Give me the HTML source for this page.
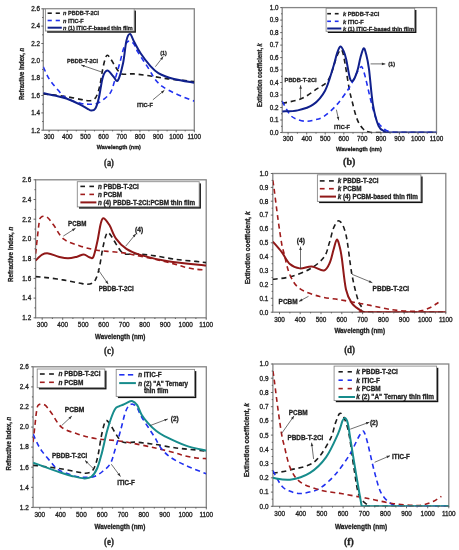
<!DOCTYPE html>
<html><head><meta charset="utf-8"><style>
html,body{margin:0;padding:0;background:#fff;}
body{width:459px;height:550px;overflow:hidden;}
svg{display:block;filter:blur(0.35px);}
</style></head><body>
<svg width="459" height="550" viewBox="0 0 459 550" font-family="Liberation Sans, sans-serif">
<rect width="459" height="550" fill="#fff"/>
<clipPath id="ca"><rect x="43.3" y="7.8" width="151.0" height="122.4"/></clipPath>
<rect x="43.3" y="8.8" width="151.0" height="121.4" fill="none" stroke="#858585" stroke-width="1.3"/>
<line x1="49.1" y1="130.2" x2="49.1" y2="132.2" stroke="#444" stroke-width="0.8"/>
<text x="49.1" y="138.5" font-size="6.30" text-anchor="middle" fill="#222" stroke="#222" stroke-width="0.30" >300</text>
<line x1="58.2" y1="130.2" x2="58.2" y2="131.4" stroke="#444" stroke-width="0.8"/>
<line x1="67.3" y1="130.2" x2="67.3" y2="132.2" stroke="#444" stroke-width="0.8"/>
<text x="67.3" y="138.5" font-size="6.30" text-anchor="middle" fill="#222" stroke="#222" stroke-width="0.30" >400</text>
<line x1="76.3" y1="130.2" x2="76.3" y2="131.4" stroke="#444" stroke-width="0.8"/>
<line x1="85.4" y1="130.2" x2="85.4" y2="132.2" stroke="#444" stroke-width="0.8"/>
<text x="85.4" y="138.5" font-size="6.30" text-anchor="middle" fill="#222" stroke="#222" stroke-width="0.30" >500</text>
<line x1="94.5" y1="130.2" x2="94.5" y2="131.4" stroke="#444" stroke-width="0.8"/>
<line x1="103.6" y1="130.2" x2="103.6" y2="132.2" stroke="#444" stroke-width="0.8"/>
<text x="103.6" y="138.5" font-size="6.30" text-anchor="middle" fill="#222" stroke="#222" stroke-width="0.30" >600</text>
<line x1="112.6" y1="130.2" x2="112.6" y2="131.4" stroke="#444" stroke-width="0.8"/>
<line x1="121.7" y1="130.2" x2="121.7" y2="132.2" stroke="#444" stroke-width="0.8"/>
<text x="121.7" y="138.5" font-size="6.30" text-anchor="middle" fill="#222" stroke="#222" stroke-width="0.30" >700</text>
<line x1="130.8" y1="130.2" x2="130.8" y2="131.4" stroke="#444" stroke-width="0.8"/>
<line x1="139.9" y1="130.2" x2="139.9" y2="132.2" stroke="#444" stroke-width="0.8"/>
<text x="139.9" y="138.5" font-size="6.30" text-anchor="middle" fill="#222" stroke="#222" stroke-width="0.30" >800</text>
<line x1="148.9" y1="130.2" x2="148.9" y2="131.4" stroke="#444" stroke-width="0.8"/>
<line x1="158.0" y1="130.2" x2="158.0" y2="132.2" stroke="#444" stroke-width="0.8"/>
<text x="158.0" y="138.5" font-size="6.30" text-anchor="middle" fill="#222" stroke="#222" stroke-width="0.30" >900</text>
<line x1="167.1" y1="130.2" x2="167.1" y2="131.4" stroke="#444" stroke-width="0.8"/>
<line x1="176.2" y1="130.2" x2="176.2" y2="132.2" stroke="#444" stroke-width="0.8"/>
<text x="176.2" y="138.5" font-size="6.30" text-anchor="middle" fill="#222" stroke="#222" stroke-width="0.30" >1000</text>
<line x1="185.2" y1="130.2" x2="185.2" y2="131.4" stroke="#444" stroke-width="0.8"/>
<line x1="194.3" y1="130.2" x2="194.3" y2="132.2" stroke="#444" stroke-width="0.8"/>
<text x="194.3" y="138.5" font-size="6.30" text-anchor="middle" fill="#222" stroke="#222" stroke-width="0.30" >1100</text>
<line x1="41.3" y1="130.2" x2="43.3" y2="130.2" stroke="#444" stroke-width="0.8"/>
<text x="39.9" y="132.5" font-size="6.30" text-anchor="end" fill="#222" stroke="#222" stroke-width="0.30" >1.2</text>
<line x1="42.1" y1="121.5" x2="43.3" y2="121.5" stroke="#444" stroke-width="0.8"/>
<line x1="41.3" y1="112.9" x2="43.3" y2="112.9" stroke="#444" stroke-width="0.8"/>
<text x="39.9" y="115.1" font-size="6.30" text-anchor="end" fill="#222" stroke="#222" stroke-width="0.30" >1.4</text>
<line x1="42.1" y1="104.2" x2="43.3" y2="104.2" stroke="#444" stroke-width="0.8"/>
<line x1="41.3" y1="95.5" x2="43.3" y2="95.5" stroke="#444" stroke-width="0.8"/>
<text x="39.9" y="97.8" font-size="6.30" text-anchor="end" fill="#222" stroke="#222" stroke-width="0.30" >1.6</text>
<line x1="42.1" y1="86.8" x2="43.3" y2="86.8" stroke="#444" stroke-width="0.8"/>
<line x1="41.3" y1="78.2" x2="43.3" y2="78.2" stroke="#444" stroke-width="0.8"/>
<text x="39.9" y="80.4" font-size="6.30" text-anchor="end" fill="#222" stroke="#222" stroke-width="0.30" >1.8</text>
<line x1="42.1" y1="69.5" x2="43.3" y2="69.5" stroke="#444" stroke-width="0.8"/>
<line x1="41.3" y1="60.8" x2="43.3" y2="60.8" stroke="#444" stroke-width="0.8"/>
<text x="39.9" y="63.1" font-size="6.30" text-anchor="end" fill="#222" stroke="#222" stroke-width="0.30" >2.0</text>
<line x1="42.1" y1="52.2" x2="43.3" y2="52.2" stroke="#444" stroke-width="0.8"/>
<line x1="41.3" y1="43.5" x2="43.3" y2="43.5" stroke="#444" stroke-width="0.8"/>
<text x="39.9" y="45.8" font-size="6.30" text-anchor="end" fill="#222" stroke="#222" stroke-width="0.30" >2.2</text>
<line x1="42.1" y1="34.8" x2="43.3" y2="34.8" stroke="#444" stroke-width="0.8"/>
<line x1="41.3" y1="26.1" x2="43.3" y2="26.1" stroke="#444" stroke-width="0.8"/>
<text x="39.9" y="28.4" font-size="6.30" text-anchor="end" fill="#222" stroke="#222" stroke-width="0.30" >2.4</text>
<line x1="42.1" y1="17.5" x2="43.3" y2="17.5" stroke="#444" stroke-width="0.8"/>
<line x1="41.3" y1="8.8" x2="43.3" y2="8.8" stroke="#444" stroke-width="0.8"/>
<text x="39.9" y="11.1" font-size="6.30" text-anchor="end" fill="#222" stroke="#222" stroke-width="0.30" >2.6</text>
<text x="0" y="0" font-size="6.40" text-anchor="middle" textLength="52.0" lengthAdjust="spacingAndGlyphs" fill="#222" stroke="#222" stroke-width="0.30" font-family="Liberation Sans, sans-serif" font-weight="bold" transform="translate(23.6,74.0) rotate(-90)">Refractive index, <tspan font-style="italic">n</tspan></text>
<text x="118.8" y="149.1" font-size="5.90" text-anchor="middle" textLength="44.1" lengthAdjust="spacingAndGlyphs" fill="#222" stroke="#222" stroke-width="0.30" font-family="Liberation Sans, sans-serif" font-weight="bold">Wavelength (nm)</text>
<text x="109.0" y="165.9" font-size="10.5" font-weight="bold" font-family="Liberation Serif, serif" text-anchor="middle" textLength="9.8" lengthAdjust="spacingAndGlyphs" fill="#222" stroke="#222" stroke-width="0.35">(a)</text>
<g clip-path="url(#ca)" fill="none" stroke-linejoin="round">
<path d="M43.30,93.95 C44.87,94.10 48.74,94.34 52.74,94.82 C56.73,95.30 62.42,96.02 67.26,96.81 C72.10,97.61 78.15,98.94 81.78,99.59 C85.41,100.24 86.98,100.76 89.04,100.72 C91.09,100.67 92.76,100.34 94.12,99.33 C95.48,98.32 96.23,97.02 97.20,94.65 C98.17,92.28 99.02,89.30 99.92,85.11 C100.83,80.92 101.74,73.98 102.65,69.50 C103.55,65.02 104.55,60.60 105.37,58.23 C106.19,55.86 106.64,55.13 107.55,55.28 C108.46,55.42 109.66,57.45 110.81,59.09 C111.96,60.74 113.17,63.14 114.44,65.16 C115.71,67.19 117.17,69.76 118.44,71.23 C119.71,72.71 120.61,73.52 122.07,74.01 C123.52,74.50 125.24,74.20 127.15,74.18 C129.05,74.17 129.84,73.66 133.50,73.92 C137.16,74.18 143.36,74.92 149.11,75.74 C154.86,76.57 161.96,78.06 167.98,78.87 C174.00,79.67 180.84,80.14 185.23,80.60 C189.61,81.06 192.79,81.47 194.30,81.64" stroke="#1c1c1c" stroke-width="1.6" stroke-dasharray="5 3.7"/>
<path d="M43.30,66.90 C43.97,68.34 45.93,73.01 47.29,75.57 C48.65,78.13 49.65,79.79 51.47,82.25 C53.28,84.70 56.16,87.96 58.18,90.31 C60.21,92.67 61.51,94.72 63.63,96.38 C65.74,98.04 67.98,99.10 70.89,100.28 C73.79,101.47 78.03,102.84 81.05,103.49 C84.07,104.14 86.43,104.19 89.04,104.19 C91.64,104.19 94.24,104.29 96.66,103.49 C99.08,102.70 101.23,101.27 103.55,99.42 C105.88,97.57 108.79,95.50 110.63,92.39 C112.48,89.29 113.08,85.74 114.63,80.77 C116.17,75.80 118.41,67.91 119.89,62.56 C121.37,57.22 122.40,52.01 123.52,48.69 C124.64,45.36 125.48,43.89 126.60,42.62 C127.72,41.35 128.99,40.77 130.23,41.06 C131.47,41.35 132.74,42.47 134.05,44.35 C135.35,46.23 135.56,48.21 138.04,52.33 C140.52,56.45 146.11,64.62 148.93,69.07 C151.74,73.52 152.68,76.15 154.92,79.04 C157.15,81.93 158.82,83.92 162.36,86.41 C165.90,88.90 170.83,91.50 176.15,93.95 C181.47,96.41 191.28,99.95 194.30,101.15" stroke="#2030f0" stroke-width="1.6" stroke-dasharray="5 3.7"/>
<path d="M43.30,93.09 C45.18,93.49 50.71,94.62 54.55,95.51 C58.39,96.41 62.08,96.96 66.35,98.46 C70.61,99.97 76.66,102.86 80.14,104.53 C83.62,106.21 85.35,107.51 87.22,108.52 C89.10,109.53 90.03,110.60 91.39,110.60 C92.76,110.60 94.15,110.62 95.39,108.52 C96.63,106.43 97.60,103.26 98.84,98.03 C100.08,92.80 101.41,81.71 102.83,77.13 C104.25,72.55 105.61,70.66 107.37,70.54 C109.12,70.42 111.60,74.80 113.36,76.44 C115.11,78.07 116.26,82.62 117.89,80.34 C119.53,78.06 121.73,69.36 123.16,62.74 C124.58,56.12 125.27,45.41 126.42,40.62 C127.57,35.84 128.75,33.82 130.05,34.03 C131.35,34.25 132.44,38.67 134.23,41.92 C136.01,45.18 138.16,49.64 140.76,53.54 C143.36,57.45 146.90,62.07 149.83,65.34 C152.77,68.60 154.34,70.86 158.36,73.14 C162.39,75.43 167.98,77.45 173.97,79.04 C179.96,80.63 190.91,82.07 194.30,82.68" stroke="#10208c" stroke-width="2"/>
</g>
<text x="67.1" y="63.1" font-size="6.16" text-anchor="start" textLength="31.0" lengthAdjust="spacingAndGlyphs" fill="#222" stroke="#222" stroke-width="0.30" font-family="Liberation Sans, sans-serif" font-weight="bold">PBDB-T-2Cl</text>
<line x1="102.5" y1="72.3" x2="81.2" y2="65.0" stroke="#333" stroke-width="0.70"/>
<polygon points="81.2,65.0 84.8,64.9 84.0,67.3" fill="#333"/>
<text x="160.3" y="54.5" font-size="6.16" text-anchor="start" textLength="6.6" lengthAdjust="spacingAndGlyphs" fill="#222" stroke="#222" stroke-width="0.30" font-family="Liberation Sans, sans-serif" font-weight="bold">(1)</text>
<line x1="155.4" y1="66.7" x2="163.3" y2="56.5" stroke="#333" stroke-width="0.70"/>
<polygon points="163.3,56.5 162.2,60.0 160.2,58.4" fill="#333"/>
<text x="137.0" y="107.1" font-size="6.16" text-anchor="start" textLength="15.9" lengthAdjust="spacingAndGlyphs" fill="#222" stroke="#222" stroke-width="0.30" font-family="Liberation Sans, sans-serif" font-weight="bold">ITIC-F</text>
<line x1="152.9" y1="99.8" x2="164.4" y2="90.3" stroke="#333" stroke-width="0.70"/>
<polygon points="164.4,90.3 162.6,93.5 161.0,91.5" fill="#333"/>
<rect x="47.10" y="10.60" width="88.80" height="22.10" fill="#111"/>
<rect x="45.40" y="8.90" width="88.80" height="22.10" fill="#fff" stroke="#8a8a8a" stroke-width="0.9"/>
<line x1="47.60" y1="13.20" x2="51.80" y2="13.20" stroke="#1c1c1c" stroke-width="1.6"/>
<line x1="55.70" y1="13.20" x2="59.90" y2="13.20" stroke="#1c1c1c" stroke-width="1.6"/>
<text transform="translate(63.10,15.42) scale(0.8990,1)" font-size="6.16" fill="#222" stroke="#222" stroke-width="0.30" font-family="Liberation Sans, sans-serif" font-weight="bold"><tspan font-style="italic">n</tspan> PBDB-T-2Cl</text>
<line x1="47.60" y1="20.50" x2="51.80" y2="20.50" stroke="#2030f0" stroke-width="1.6"/>
<line x1="55.70" y1="20.50" x2="59.90" y2="20.50" stroke="#2030f0" stroke-width="1.6"/>
<text transform="translate(63.10,22.72) scale(0.8990,1)" font-size="6.16" fill="#222" stroke="#222" stroke-width="0.30" font-family="Liberation Sans, sans-serif" font-weight="bold"><tspan font-style="italic">n</tspan> ITIC-F</text>
<line x1="47.60" y1="27.70" x2="61.80" y2="27.70" stroke="#10208c" stroke-width="2"/>
<text transform="translate(63.10,29.92) scale(0.8990,1)" font-size="6.16" fill="#222" stroke="#222" stroke-width="0.30" font-family="Liberation Sans, sans-serif" font-weight="bold"><tspan font-style="italic">n</tspan> (1) ITIC-F-based thin film</text>
<clipPath id="cb"><rect x="282.2" y="6.6" width="154.3" height="125.9"/></clipPath>
<rect x="282.2" y="7.6" width="154.3" height="124.9" fill="none" stroke="#858585" stroke-width="1.3"/>
<line x1="288.1" y1="132.5" x2="288.1" y2="134.5" stroke="#444" stroke-width="0.8"/>
<text x="288.1" y="140.8" font-size="6.30" text-anchor="middle" fill="#222" stroke="#222" stroke-width="0.30" >300</text>
<line x1="297.4" y1="132.5" x2="297.4" y2="133.7" stroke="#444" stroke-width="0.8"/>
<line x1="306.7" y1="132.5" x2="306.7" y2="134.5" stroke="#444" stroke-width="0.8"/>
<text x="306.7" y="140.8" font-size="6.30" text-anchor="middle" fill="#222" stroke="#222" stroke-width="0.30" >400</text>
<line x1="316.0" y1="132.5" x2="316.0" y2="133.7" stroke="#444" stroke-width="0.8"/>
<line x1="325.2" y1="132.5" x2="325.2" y2="134.5" stroke="#444" stroke-width="0.8"/>
<text x="325.2" y="140.8" font-size="6.30" text-anchor="middle" fill="#222" stroke="#222" stroke-width="0.30" >500</text>
<line x1="334.5" y1="132.5" x2="334.5" y2="133.7" stroke="#444" stroke-width="0.8"/>
<line x1="343.8" y1="132.5" x2="343.8" y2="134.5" stroke="#444" stroke-width="0.8"/>
<text x="343.8" y="140.8" font-size="6.30" text-anchor="middle" fill="#222" stroke="#222" stroke-width="0.30" >600</text>
<line x1="353.0" y1="132.5" x2="353.0" y2="133.7" stroke="#444" stroke-width="0.8"/>
<line x1="362.3" y1="132.5" x2="362.3" y2="134.5" stroke="#444" stroke-width="0.8"/>
<text x="362.3" y="140.8" font-size="6.30" text-anchor="middle" fill="#222" stroke="#222" stroke-width="0.30" >700</text>
<line x1="371.6" y1="132.5" x2="371.6" y2="133.7" stroke="#444" stroke-width="0.8"/>
<line x1="380.9" y1="132.5" x2="380.9" y2="134.5" stroke="#444" stroke-width="0.8"/>
<text x="380.9" y="140.8" font-size="6.30" text-anchor="middle" fill="#222" stroke="#222" stroke-width="0.30" >800</text>
<line x1="390.1" y1="132.5" x2="390.1" y2="133.7" stroke="#444" stroke-width="0.8"/>
<line x1="399.4" y1="132.5" x2="399.4" y2="134.5" stroke="#444" stroke-width="0.8"/>
<text x="399.4" y="140.8" font-size="6.30" text-anchor="middle" fill="#222" stroke="#222" stroke-width="0.30" >900</text>
<line x1="408.7" y1="132.5" x2="408.7" y2="133.7" stroke="#444" stroke-width="0.8"/>
<line x1="418.0" y1="132.5" x2="418.0" y2="134.5" stroke="#444" stroke-width="0.8"/>
<text x="418.0" y="140.8" font-size="6.30" text-anchor="middle" fill="#222" stroke="#222" stroke-width="0.30" >1000</text>
<line x1="427.2" y1="132.5" x2="427.2" y2="133.7" stroke="#444" stroke-width="0.8"/>
<line x1="436.5" y1="132.5" x2="436.5" y2="134.5" stroke="#444" stroke-width="0.8"/>
<text x="436.5" y="140.8" font-size="6.30" text-anchor="middle" fill="#222" stroke="#222" stroke-width="0.30" >1100</text>
<line x1="280.2" y1="132.5" x2="282.2" y2="132.5" stroke="#444" stroke-width="0.8"/>
<text x="278.6" y="134.8" font-size="6.30" text-anchor="end" fill="#222" stroke="#222" stroke-width="0.30" >0.0</text>
<line x1="281.0" y1="126.3" x2="282.2" y2="126.3" stroke="#444" stroke-width="0.8"/>
<line x1="280.2" y1="120.0" x2="282.2" y2="120.0" stroke="#444" stroke-width="0.8"/>
<text x="278.6" y="122.3" font-size="6.30" text-anchor="end" fill="#222" stroke="#222" stroke-width="0.30" >0.1</text>
<line x1="281.0" y1="113.8" x2="282.2" y2="113.8" stroke="#444" stroke-width="0.8"/>
<line x1="280.2" y1="107.5" x2="282.2" y2="107.5" stroke="#444" stroke-width="0.8"/>
<text x="278.6" y="109.8" font-size="6.30" text-anchor="end" fill="#222" stroke="#222" stroke-width="0.30" >0.2</text>
<line x1="281.0" y1="101.3" x2="282.2" y2="101.3" stroke="#444" stroke-width="0.8"/>
<line x1="280.2" y1="95.0" x2="282.2" y2="95.0" stroke="#444" stroke-width="0.8"/>
<text x="278.6" y="97.3" font-size="6.30" text-anchor="end" fill="#222" stroke="#222" stroke-width="0.30" >0.3</text>
<line x1="281.0" y1="88.8" x2="282.2" y2="88.8" stroke="#444" stroke-width="0.8"/>
<line x1="280.2" y1="82.5" x2="282.2" y2="82.5" stroke="#444" stroke-width="0.8"/>
<text x="278.6" y="84.8" font-size="6.30" text-anchor="end" fill="#222" stroke="#222" stroke-width="0.30" >0.4</text>
<line x1="281.0" y1="76.3" x2="282.2" y2="76.3" stroke="#444" stroke-width="0.8"/>
<line x1="280.2" y1="70.0" x2="282.2" y2="70.0" stroke="#444" stroke-width="0.8"/>
<text x="278.6" y="72.3" font-size="6.30" text-anchor="end" fill="#222" stroke="#222" stroke-width="0.30" >0.5</text>
<line x1="281.0" y1="63.8" x2="282.2" y2="63.8" stroke="#444" stroke-width="0.8"/>
<line x1="280.2" y1="57.6" x2="282.2" y2="57.6" stroke="#444" stroke-width="0.8"/>
<text x="278.6" y="59.8" font-size="6.30" text-anchor="end" fill="#222" stroke="#222" stroke-width="0.30" >0.6</text>
<line x1="281.0" y1="51.3" x2="282.2" y2="51.3" stroke="#444" stroke-width="0.8"/>
<line x1="280.2" y1="45.1" x2="282.2" y2="45.1" stroke="#444" stroke-width="0.8"/>
<text x="278.6" y="47.3" font-size="6.30" text-anchor="end" fill="#222" stroke="#222" stroke-width="0.30" >0.7</text>
<line x1="281.0" y1="38.8" x2="282.2" y2="38.8" stroke="#444" stroke-width="0.8"/>
<line x1="280.2" y1="32.6" x2="282.2" y2="32.6" stroke="#444" stroke-width="0.8"/>
<text x="278.6" y="34.8" font-size="6.30" text-anchor="end" fill="#222" stroke="#222" stroke-width="0.30" >0.8</text>
<line x1="281.0" y1="26.3" x2="282.2" y2="26.3" stroke="#444" stroke-width="0.8"/>
<line x1="280.2" y1="20.1" x2="282.2" y2="20.1" stroke="#444" stroke-width="0.8"/>
<text x="278.6" y="22.4" font-size="6.30" text-anchor="end" fill="#222" stroke="#222" stroke-width="0.30" >0.9</text>
<line x1="281.0" y1="13.8" x2="282.2" y2="13.8" stroke="#444" stroke-width="0.8"/>
<line x1="280.2" y1="7.6" x2="282.2" y2="7.6" stroke="#444" stroke-width="0.8"/>
<text x="278.6" y="9.9" font-size="6.30" text-anchor="end" fill="#222" stroke="#222" stroke-width="0.30" >1.0</text>
<text x="0" y="0" font-size="6.40" text-anchor="middle" textLength="63.6" lengthAdjust="spacingAndGlyphs" fill="#222" stroke="#222" stroke-width="0.30" font-family="Liberation Sans, sans-serif" font-weight="bold" transform="translate(262.1,75.1) rotate(-90)">Extinction coefficient, <tspan font-style="italic">k</tspan></text>
<text x="358.9" y="150.8" font-size="5.90" text-anchor="middle" textLength="45.8" lengthAdjust="spacingAndGlyphs" fill="#222" stroke="#222" stroke-width="0.30" font-family="Liberation Sans, sans-serif" font-weight="bold">Wavelength (nm)</text>
<text x="349.2" y="164.9" font-size="10.5" font-weight="bold" font-family="Liberation Serif, serif" text-anchor="middle" textLength="12.2" lengthAdjust="spacingAndGlyphs" fill="#222" stroke="#222" stroke-width="0.35">(b)</text>
<g clip-path="url(#cb)" fill="none" stroke-linejoin="round">
<path d="M282.20,103.40 C285.45,102.59 295.83,100.98 301.67,98.53 C307.51,96.07 313.08,91.37 317.25,88.66 C321.42,85.95 324.30,85.02 326.71,82.29 C329.12,79.56 330.11,76.42 331.72,72.30 C333.32,68.18 334.96,61.20 336.35,57.56 C337.74,53.92 339.04,51.46 340.06,50.44 C341.08,49.42 341.67,49.42 342.47,51.44 C343.28,53.46 344.11,58.41 344.88,62.56 C345.66,66.70 346.31,71.51 347.11,76.29 C347.91,81.08 348.87,87.12 349.71,91.28 C350.54,95.45 351.16,97.44 352.12,101.28 C353.08,105.11 354.37,110.73 355.46,114.26 C356.54,117.80 357.31,120.05 358.61,122.51 C359.91,124.96 361.51,127.42 363.24,129.00 C364.98,130.58 366.06,131.42 368.99,132.00 C371.93,132.58 369.61,132.42 380.86,132.50 C392.11,132.58 427.23,132.50 436.50,132.50" stroke="#1c1c1c" stroke-width="1.6" stroke-dasharray="5 3.7"/>
<path d="M282.20,101.28 C283.50,103.52 287.45,111.75 289.99,114.76 C292.52,117.78 294.81,118.30 297.41,119.39 C300.00,120.47 302.79,121.15 305.57,121.26 C308.35,121.36 311.10,120.78 314.10,120.01 C317.10,119.24 319.82,119.14 323.56,116.64 C327.30,114.14 332.24,109.87 336.54,105.02 C340.84,100.17 345.94,92.95 349.34,87.54 C352.74,82.12 355.08,75.92 356.94,72.55 C358.79,69.18 359.57,68.13 360.46,67.30 C361.36,66.47 361.51,65.95 362.32,67.55 C363.12,69.15 363.83,71.30 365.28,76.92 C366.74,82.54 369.12,94.09 371.03,101.28 C372.95,108.46 374.56,115.35 376.78,120.01 C379.01,124.67 381.85,127.23 384.39,129.25 C386.92,131.27 389.49,131.58 391.99,132.13 C394.49,132.67 391.99,132.44 399.41,132.50 C406.83,132.56 430.32,132.50 436.50,132.50" stroke="#2030f0" stroke-width="1.6" stroke-dasharray="5 3.7"/>
<path d="M282.20,111.39 C284.80,111.23 292.59,111.56 297.78,110.39 C302.97,109.23 308.81,107.69 313.36,104.40 C317.90,101.11 321.83,96.55 325.04,90.66 C328.26,84.77 330.60,75.40 332.64,69.05 C334.68,62.70 335.98,56.33 337.28,52.56 C338.58,48.80 339.35,46.65 340.43,46.44 C341.52,46.24 342.81,49.19 343.77,51.31 C344.73,53.44 345.19,54.81 346.18,59.18 C347.17,63.56 348.72,73.86 349.71,77.54 C350.70,81.23 351.25,81.29 352.12,81.29 C352.98,81.29 353.94,79.58 354.90,77.54 C355.86,75.50 356.94,72.38 357.87,69.05 C358.79,65.72 359.50,60.99 360.46,57.56 C361.42,54.13 362.69,49.07 363.62,48.44 C364.54,47.82 365.13,50.38 366.03,53.81 C366.92,57.25 367.85,60.62 368.99,69.05 C370.14,77.48 371.28,94.88 372.89,104.40 C374.50,113.91 376.69,121.65 378.64,126.13 C380.58,130.61 382.93,130.19 384.57,131.25 C386.21,132.31 379.81,132.29 388.47,132.50 C397.12,132.71 428.49,132.50 436.50,132.50" stroke="#10208c" stroke-width="2"/>
</g>
<text x="284.6" y="82.1" font-size="6.16" text-anchor="start" textLength="32.0" lengthAdjust="spacingAndGlyphs" fill="#222" stroke="#222" stroke-width="0.30" font-family="Liberation Sans, sans-serif" font-weight="bold">PBDB-T-2Cl</text>
<line x1="300.6" y1="99.0" x2="300.6" y2="85.3" stroke="#333" stroke-width="0.70"/>
<polygon points="300.6,85.3 301.9,88.7 299.3,88.7" fill="#333"/>
<text x="334.1" y="128.6" font-size="6.16" text-anchor="start" textLength="15.9" lengthAdjust="spacingAndGlyphs" fill="#222" stroke="#222" stroke-width="0.30" font-family="Liberation Sans, sans-serif" font-weight="bold">ITIC-F</text>
<line x1="336.4" y1="109.7" x2="338.7" y2="120.3" stroke="#333" stroke-width="0.70"/>
<polygon points="338.7,120.3 336.7,117.3 339.2,116.7" fill="#333"/>
<text x="388.2" y="66.1" font-size="6.16" text-anchor="start" textLength="6.9" lengthAdjust="spacingAndGlyphs" fill="#222" stroke="#222" stroke-width="0.30" font-family="Liberation Sans, sans-serif" font-weight="bold">(1)</text>
<line x1="370.6" y1="63.9" x2="385.3" y2="63.9" stroke="#333" stroke-width="0.70"/>
<polygon points="385.3,63.9 381.9,65.2 381.9,62.6" fill="#333"/>
<rect x="327.80" y="10.00" width="88.60" height="23.00" fill="#111"/>
<rect x="326.10" y="8.30" width="88.60" height="23.00" fill="#fff" stroke="#8a8a8a" stroke-width="0.9"/>
<line x1="327.20" y1="13.70" x2="331.00" y2="13.70" stroke="#1c1c1c" stroke-width="1.6"/>
<line x1="334.80" y1="13.70" x2="338.60" y2="13.70" stroke="#1c1c1c" stroke-width="1.6"/>
<text transform="translate(343.00,15.92) scale(0.9171,1)" font-size="6.16" fill="#222" stroke="#222" stroke-width="0.30" font-family="Liberation Sans, sans-serif" font-weight="bold"><tspan font-style="italic">k</tspan> PBDB-T-2Cl</text>
<line x1="327.20" y1="21.30" x2="331.00" y2="21.30" stroke="#2030f0" stroke-width="1.6"/>
<line x1="334.80" y1="21.30" x2="338.60" y2="21.30" stroke="#2030f0" stroke-width="1.6"/>
<text transform="translate(343.00,23.52) scale(0.9171,1)" font-size="6.16" fill="#222" stroke="#222" stroke-width="0.30" font-family="Liberation Sans, sans-serif" font-weight="bold"><tspan font-style="italic">k</tspan> ITIC-F</text>
<line x1="327.20" y1="28.50" x2="341.30" y2="28.50" stroke="#10208c" stroke-width="2"/>
<text transform="translate(343.00,30.72) scale(0.9171,1)" font-size="6.16" fill="#222" stroke="#222" stroke-width="0.30" font-family="Liberation Sans, sans-serif" font-weight="bold"><tspan font-style="italic">k</tspan> (1) ITIC-F-based thin film</text>
<clipPath id="cc"><rect x="35.6" y="178.8" width="170.6" height="139.0"/></clipPath>
<rect x="35.6" y="179.8" width="170.6" height="138.0" fill="none" stroke="#858585" stroke-width="1.3"/>
<line x1="42.2" y1="317.8" x2="42.2" y2="319.8" stroke="#444" stroke-width="0.8"/>
<text x="42.2" y="326.6" font-size="6.40" text-anchor="middle" fill="#222" stroke="#222" stroke-width="0.30" >300</text>
<line x1="52.4" y1="317.8" x2="52.4" y2="319.0" stroke="#444" stroke-width="0.8"/>
<line x1="62.7" y1="317.8" x2="62.7" y2="319.8" stroke="#444" stroke-width="0.8"/>
<text x="62.7" y="326.6" font-size="6.40" text-anchor="middle" fill="#222" stroke="#222" stroke-width="0.30" >400</text>
<line x1="72.9" y1="317.8" x2="72.9" y2="319.0" stroke="#444" stroke-width="0.8"/>
<line x1="83.2" y1="317.8" x2="83.2" y2="319.8" stroke="#444" stroke-width="0.8"/>
<text x="83.2" y="326.6" font-size="6.40" text-anchor="middle" fill="#222" stroke="#222" stroke-width="0.30" >500</text>
<line x1="93.4" y1="317.8" x2="93.4" y2="319.0" stroke="#444" stroke-width="0.8"/>
<line x1="103.7" y1="317.8" x2="103.7" y2="319.8" stroke="#444" stroke-width="0.8"/>
<text x="103.7" y="326.6" font-size="6.40" text-anchor="middle" fill="#222" stroke="#222" stroke-width="0.30" >600</text>
<line x1="113.9" y1="317.8" x2="113.9" y2="319.0" stroke="#444" stroke-width="0.8"/>
<line x1="124.2" y1="317.8" x2="124.2" y2="319.8" stroke="#444" stroke-width="0.8"/>
<text x="124.2" y="326.6" font-size="6.40" text-anchor="middle" fill="#222" stroke="#222" stroke-width="0.30" >700</text>
<line x1="134.4" y1="317.8" x2="134.4" y2="319.0" stroke="#444" stroke-width="0.8"/>
<line x1="144.7" y1="317.8" x2="144.7" y2="319.8" stroke="#444" stroke-width="0.8"/>
<text x="144.7" y="326.6" font-size="6.40" text-anchor="middle" fill="#222" stroke="#222" stroke-width="0.30" >800</text>
<line x1="154.9" y1="317.8" x2="154.9" y2="319.0" stroke="#444" stroke-width="0.8"/>
<line x1="165.2" y1="317.8" x2="165.2" y2="319.8" stroke="#444" stroke-width="0.8"/>
<text x="165.2" y="326.6" font-size="6.40" text-anchor="middle" fill="#222" stroke="#222" stroke-width="0.30" >900</text>
<line x1="175.4" y1="317.8" x2="175.4" y2="319.0" stroke="#444" stroke-width="0.8"/>
<line x1="185.7" y1="317.8" x2="185.7" y2="319.8" stroke="#444" stroke-width="0.8"/>
<text x="185.7" y="326.6" font-size="6.40" text-anchor="middle" fill="#222" stroke="#222" stroke-width="0.30" >1000</text>
<line x1="195.9" y1="317.8" x2="195.9" y2="319.0" stroke="#444" stroke-width="0.8"/>
<line x1="206.2" y1="317.8" x2="206.2" y2="319.8" stroke="#444" stroke-width="0.8"/>
<text x="206.2" y="326.6" font-size="6.40" text-anchor="middle" fill="#222" stroke="#222" stroke-width="0.30" >1100</text>
<line x1="33.6" y1="317.8" x2="35.6" y2="317.8" stroke="#444" stroke-width="0.8"/>
<text x="31.2" y="320.1" font-size="6.40" text-anchor="end" fill="#222" stroke="#222" stroke-width="0.30" >1.2</text>
<line x1="34.4" y1="307.9" x2="35.6" y2="307.9" stroke="#444" stroke-width="0.8"/>
<line x1="33.6" y1="298.1" x2="35.6" y2="298.1" stroke="#444" stroke-width="0.8"/>
<text x="31.2" y="300.4" font-size="6.40" text-anchor="end" fill="#222" stroke="#222" stroke-width="0.30" >1.4</text>
<line x1="34.4" y1="288.2" x2="35.6" y2="288.2" stroke="#444" stroke-width="0.8"/>
<line x1="33.6" y1="278.4" x2="35.6" y2="278.4" stroke="#444" stroke-width="0.8"/>
<text x="31.2" y="280.7" font-size="6.40" text-anchor="end" fill="#222" stroke="#222" stroke-width="0.30" >1.6</text>
<line x1="34.4" y1="268.5" x2="35.6" y2="268.5" stroke="#444" stroke-width="0.8"/>
<line x1="33.6" y1="258.7" x2="35.6" y2="258.7" stroke="#444" stroke-width="0.8"/>
<text x="31.2" y="261.0" font-size="6.40" text-anchor="end" fill="#222" stroke="#222" stroke-width="0.30" >1.8</text>
<line x1="34.4" y1="248.8" x2="35.6" y2="248.8" stroke="#444" stroke-width="0.8"/>
<line x1="33.6" y1="238.9" x2="35.6" y2="238.9" stroke="#444" stroke-width="0.8"/>
<text x="31.2" y="241.2" font-size="6.40" text-anchor="end" fill="#222" stroke="#222" stroke-width="0.30" >2.0</text>
<line x1="34.4" y1="229.1" x2="35.6" y2="229.1" stroke="#444" stroke-width="0.8"/>
<line x1="33.6" y1="219.2" x2="35.6" y2="219.2" stroke="#444" stroke-width="0.8"/>
<text x="31.2" y="221.5" font-size="6.40" text-anchor="end" fill="#222" stroke="#222" stroke-width="0.30" >2.2</text>
<line x1="34.4" y1="209.4" x2="35.6" y2="209.4" stroke="#444" stroke-width="0.8"/>
<line x1="33.6" y1="199.5" x2="35.6" y2="199.5" stroke="#444" stroke-width="0.8"/>
<text x="31.2" y="201.8" font-size="6.40" text-anchor="end" fill="#222" stroke="#222" stroke-width="0.30" >2.4</text>
<line x1="34.4" y1="189.7" x2="35.6" y2="189.7" stroke="#444" stroke-width="0.8"/>
<line x1="33.6" y1="179.8" x2="35.6" y2="179.8" stroke="#444" stroke-width="0.8"/>
<text x="31.2" y="182.1" font-size="6.40" text-anchor="end" fill="#222" stroke="#222" stroke-width="0.30" >2.6</text>
<text x="0" y="0" font-size="6.93" text-anchor="middle" textLength="55.3" lengthAdjust="spacingAndGlyphs" fill="#222" stroke="#222" stroke-width="0.30" font-family="Liberation Sans, sans-serif" font-weight="bold" transform="translate(12.7,254.4) rotate(-90)">Refractive index, <tspan font-style="italic">n</tspan></text>
<text x="120.2" y="338.8" font-size="6.93" text-anchor="middle" textLength="50.5" lengthAdjust="spacingAndGlyphs" fill="#222" stroke="#222" stroke-width="0.30" font-family="Liberation Sans, sans-serif" font-weight="bold">Wavelength (nm)</text>
<text x="109.0" y="354.4" font-size="10.5" font-weight="bold" font-family="Liberation Serif, serif" text-anchor="middle" textLength="9.8" lengthAdjust="spacingAndGlyphs" fill="#222" stroke="#222" stroke-width="0.35">(c)</text>
<g clip-path="url(#cc)" fill="none" stroke-linejoin="round">
<path d="M35.60,276.60 C37.38,276.76 41.75,277.04 46.26,277.58 C50.77,278.12 57.20,278.95 62.67,279.85 C68.13,280.75 74.97,282.27 79.07,283.00 C83.17,283.74 84.95,284.33 87.27,284.29 C89.60,284.24 91.48,283.86 93.01,282.71 C94.55,281.56 95.41,280.08 96.50,277.39 C97.59,274.69 98.55,271.31 99.57,266.54 C100.60,261.78 101.63,253.89 102.65,248.80 C103.68,243.71 104.80,238.68 105.73,235.99 C106.65,233.29 107.16,232.47 108.19,232.63 C109.21,232.80 110.58,235.10 111.88,236.97 C113.18,238.84 114.54,241.57 115.98,243.87 C117.41,246.17 119.05,249.10 120.49,250.77 C121.93,252.45 122.95,253.37 124.59,253.93 C126.23,254.48 128.18,254.14 130.33,254.12 C132.49,254.11 133.37,253.53 137.51,253.83 C141.64,254.12 148.65,254.96 155.14,255.90 C161.64,256.83 169.67,258.53 176.47,259.45 C183.27,260.37 190.99,260.89 195.95,261.42 C200.90,261.94 204.49,262.40 206.20,262.60" stroke="#1c1c1c" stroke-width="1.6" stroke-dasharray="5 3.7"/>
<path d="M35.60,253.73 C35.91,250.94 36.86,242.08 37.45,236.97 C38.03,231.86 38.50,226.36 39.09,223.07 C39.67,219.79 39.63,218.26 40.93,217.26 C42.23,216.25 44.76,215.76 46.88,217.06 C49.00,218.36 50.88,221.40 53.64,225.04 C56.41,228.69 59.21,235.51 63.49,238.94 C67.76,242.38 73.70,243.77 79.28,245.65 C84.85,247.52 90.07,249.03 96.91,250.18 C103.74,251.33 114.10,251.76 120.28,252.55 C126.47,253.33 128.25,253.79 134.02,254.91 C139.80,256.03 148.00,257.67 154.94,259.25 C161.88,260.83 170.52,263.03 175.65,264.37 C180.77,265.72 182.21,266.51 185.70,267.33 C189.18,268.15 193.15,268.88 196.56,269.30 C199.98,269.73 204.59,269.80 206.20,269.89" stroke="#a01c1c" stroke-width="1.6" stroke-dasharray="5 3.7"/>
<path d="M35.60,260.63 C36.69,259.64 40.04,255.91 42.16,254.71 C44.28,253.52 45.58,253.10 48.31,253.43 C51.05,253.76 55.28,255.86 58.57,256.69 C61.85,257.51 64.92,258.36 68.00,258.36 C71.07,258.36 74.39,257.34 77.02,256.69 C79.65,256.03 81.74,254.34 83.79,254.42 C85.84,254.50 87.72,256.80 89.32,257.18 C90.93,257.56 92.06,259.43 93.42,256.69 C94.79,253.94 96.33,246.14 97.52,240.72 C98.72,235.30 99.61,227.92 100.60,224.16 C101.59,220.40 102.00,218.00 103.47,218.14 C104.94,218.29 107.33,221.64 109.42,225.04 C111.50,228.44 113.14,234.57 115.98,238.55 C118.82,242.52 122.27,246.14 126.44,248.90 C130.61,251.66 134.06,253.04 140.99,255.11 C147.93,257.18 157.19,259.59 168.06,261.32 C178.93,263.04 199.84,264.77 206.20,265.46" stroke="#901818" stroke-width="2"/>
</g>
<text x="68.1" y="226.0" font-size="6.82" text-anchor="start" textLength="18.3" lengthAdjust="spacingAndGlyphs" fill="#222" stroke="#222" stroke-width="0.30" font-family="Liberation Sans, sans-serif" font-weight="bold">PCBM</text>
<line x1="63.3" y1="236.1" x2="75.5" y2="228.3" stroke="#333" stroke-width="0.70"/>
<polygon points="75.5,228.3 73.3,231.2 71.9,229.0" fill="#333"/>
<text x="135.1" y="232.4" font-size="6.82" text-anchor="start" textLength="8.1" lengthAdjust="spacingAndGlyphs" fill="#222" stroke="#222" stroke-width="0.30" font-family="Liberation Sans, sans-serif" font-weight="bold">(4)</text>
<line x1="125.7" y1="246.2" x2="135.9" y2="233.8" stroke="#333" stroke-width="0.70"/>
<polygon points="135.9,233.8 134.7,237.3 132.7,235.6" fill="#333"/>
<text x="98.7" y="290.9" font-size="6.82" text-anchor="start" textLength="35.0" lengthAdjust="spacingAndGlyphs" fill="#222" stroke="#222" stroke-width="0.30" font-family="Liberation Sans, sans-serif" font-weight="bold">PBDB-T-2Cl</text>
<line x1="98.0" y1="269.5" x2="108.2" y2="284.1" stroke="#333" stroke-width="0.70"/>
<polygon points="108.2,284.1 105.2,282.1 107.3,280.6" fill="#333"/>
<rect x="79.00" y="183.40" width="121.90" height="25.20" fill="#111"/>
<rect x="77.30" y="181.70" width="121.90" height="25.20" fill="#fff" stroke="#8a8a8a" stroke-width="0.9"/>
<line x1="80.40" y1="186.40" x2="85.00" y2="186.40" stroke="#1c1c1c" stroke-width="1.6"/>
<line x1="89.40" y1="186.40" x2="94.00" y2="186.40" stroke="#1c1c1c" stroke-width="1.6"/>
<text transform="translate(97.90,188.82) scale(0.9406,1)" font-size="6.71" fill="#222" stroke="#222" stroke-width="0.30" font-family="Liberation Sans, sans-serif" font-weight="bold"><tspan font-style="italic">n</tspan> PBDB-T-2Cl</text>
<line x1="80.40" y1="194.40" x2="85.00" y2="194.40" stroke="#a01c1c" stroke-width="1.6"/>
<line x1="89.40" y1="194.40" x2="94.00" y2="194.40" stroke="#a01c1c" stroke-width="1.6"/>
<text transform="translate(97.90,196.82) scale(0.9406,1)" font-size="6.71" fill="#222" stroke="#222" stroke-width="0.30" font-family="Liberation Sans, sans-serif" font-weight="bold"><tspan font-style="italic">n</tspan> PCBM</text>
<line x1="80.40" y1="202.40" x2="96.40" y2="202.40" stroke="#901818" stroke-width="2"/>
<text transform="translate(97.90,204.82) scale(0.9406,1)" font-size="6.71" fill="#222" stroke="#222" stroke-width="0.30" font-family="Liberation Sans, sans-serif" font-weight="bold"><tspan font-style="italic">n</tspan> (4) PBDB-T-2Cl:PCBM thin film</text>
<clipPath id="cd"><rect x="272.8" y="172.5" width="173.0" height="139.7"/></clipPath>
<rect x="272.8" y="173.5" width="173.0" height="138.7" fill="none" stroke="#858585" stroke-width="1.3"/>
<line x1="279.5" y1="312.2" x2="279.5" y2="314.2" stroke="#444" stroke-width="0.8"/>
<text x="279.5" y="321.6" font-size="6.40" text-anchor="middle" fill="#222" stroke="#222" stroke-width="0.30" >300</text>
<line x1="289.9" y1="312.2" x2="289.9" y2="313.4" stroke="#444" stroke-width="0.8"/>
<line x1="300.2" y1="312.2" x2="300.2" y2="314.2" stroke="#444" stroke-width="0.8"/>
<text x="300.2" y="321.6" font-size="6.40" text-anchor="middle" fill="#222" stroke="#222" stroke-width="0.30" >400</text>
<line x1="310.6" y1="312.2" x2="310.6" y2="313.4" stroke="#444" stroke-width="0.8"/>
<line x1="321.0" y1="312.2" x2="321.0" y2="314.2" stroke="#444" stroke-width="0.8"/>
<text x="321.0" y="321.6" font-size="6.40" text-anchor="middle" fill="#222" stroke="#222" stroke-width="0.30" >500</text>
<line x1="331.4" y1="312.2" x2="331.4" y2="313.4" stroke="#444" stroke-width="0.8"/>
<line x1="341.8" y1="312.2" x2="341.8" y2="314.2" stroke="#444" stroke-width="0.8"/>
<text x="341.8" y="321.6" font-size="6.40" text-anchor="middle" fill="#222" stroke="#222" stroke-width="0.30" >600</text>
<line x1="352.2" y1="312.2" x2="352.2" y2="313.4" stroke="#444" stroke-width="0.8"/>
<line x1="362.6" y1="312.2" x2="362.6" y2="314.2" stroke="#444" stroke-width="0.8"/>
<text x="362.6" y="321.6" font-size="6.40" text-anchor="middle" fill="#222" stroke="#222" stroke-width="0.30" >700</text>
<line x1="373.0" y1="312.2" x2="373.0" y2="313.4" stroke="#444" stroke-width="0.8"/>
<line x1="383.4" y1="312.2" x2="383.4" y2="314.2" stroke="#444" stroke-width="0.8"/>
<text x="383.4" y="321.6" font-size="6.40" text-anchor="middle" fill="#222" stroke="#222" stroke-width="0.30" >800</text>
<line x1="393.8" y1="312.2" x2="393.8" y2="313.4" stroke="#444" stroke-width="0.8"/>
<line x1="404.2" y1="312.2" x2="404.2" y2="314.2" stroke="#444" stroke-width="0.8"/>
<text x="404.2" y="321.6" font-size="6.40" text-anchor="middle" fill="#222" stroke="#222" stroke-width="0.30" >900</text>
<line x1="414.6" y1="312.2" x2="414.6" y2="313.4" stroke="#444" stroke-width="0.8"/>
<line x1="425.0" y1="312.2" x2="425.0" y2="314.2" stroke="#444" stroke-width="0.8"/>
<text x="425.0" y="321.6" font-size="6.40" text-anchor="middle" fill="#222" stroke="#222" stroke-width="0.30" >1000</text>
<line x1="435.4" y1="312.2" x2="435.4" y2="313.4" stroke="#444" stroke-width="0.8"/>
<line x1="445.8" y1="312.2" x2="445.8" y2="314.2" stroke="#444" stroke-width="0.8"/>
<text x="445.8" y="321.6" font-size="6.40" text-anchor="middle" fill="#222" stroke="#222" stroke-width="0.30" >1100</text>
<line x1="270.8" y1="312.2" x2="272.8" y2="312.2" stroke="#444" stroke-width="0.8"/>
<text x="268.4" y="314.5" font-size="6.40" text-anchor="end" fill="#222" stroke="#222" stroke-width="0.30" >0.0</text>
<line x1="271.6" y1="305.3" x2="272.8" y2="305.3" stroke="#444" stroke-width="0.8"/>
<line x1="270.8" y1="298.3" x2="272.8" y2="298.3" stroke="#444" stroke-width="0.8"/>
<text x="268.4" y="300.6" font-size="6.40" text-anchor="end" fill="#222" stroke="#222" stroke-width="0.30" >0.1</text>
<line x1="271.6" y1="291.4" x2="272.8" y2="291.4" stroke="#444" stroke-width="0.8"/>
<line x1="270.8" y1="284.5" x2="272.8" y2="284.5" stroke="#444" stroke-width="0.8"/>
<text x="268.4" y="286.8" font-size="6.40" text-anchor="end" fill="#222" stroke="#222" stroke-width="0.30" >0.2</text>
<line x1="271.6" y1="277.5" x2="272.8" y2="277.5" stroke="#444" stroke-width="0.8"/>
<line x1="270.8" y1="270.6" x2="272.8" y2="270.6" stroke="#444" stroke-width="0.8"/>
<text x="268.4" y="272.9" font-size="6.40" text-anchor="end" fill="#222" stroke="#222" stroke-width="0.30" >0.3</text>
<line x1="271.6" y1="263.7" x2="272.8" y2="263.7" stroke="#444" stroke-width="0.8"/>
<line x1="270.8" y1="256.7" x2="272.8" y2="256.7" stroke="#444" stroke-width="0.8"/>
<text x="268.4" y="259.0" font-size="6.40" text-anchor="end" fill="#222" stroke="#222" stroke-width="0.30" >0.4</text>
<line x1="271.6" y1="249.8" x2="272.8" y2="249.8" stroke="#444" stroke-width="0.8"/>
<line x1="270.8" y1="242.8" x2="272.8" y2="242.8" stroke="#444" stroke-width="0.8"/>
<text x="268.4" y="245.2" font-size="6.40" text-anchor="end" fill="#222" stroke="#222" stroke-width="0.30" >0.5</text>
<line x1="271.6" y1="235.9" x2="272.8" y2="235.9" stroke="#444" stroke-width="0.8"/>
<line x1="270.8" y1="229.0" x2="272.8" y2="229.0" stroke="#444" stroke-width="0.8"/>
<text x="268.4" y="231.3" font-size="6.40" text-anchor="end" fill="#222" stroke="#222" stroke-width="0.30" >0.6</text>
<line x1="271.6" y1="222.0" x2="272.8" y2="222.0" stroke="#444" stroke-width="0.8"/>
<line x1="270.8" y1="215.1" x2="272.8" y2="215.1" stroke="#444" stroke-width="0.8"/>
<text x="268.4" y="217.4" font-size="6.40" text-anchor="end" fill="#222" stroke="#222" stroke-width="0.30" >0.7</text>
<line x1="271.6" y1="208.2" x2="272.8" y2="208.2" stroke="#444" stroke-width="0.8"/>
<line x1="270.8" y1="201.2" x2="272.8" y2="201.2" stroke="#444" stroke-width="0.8"/>
<text x="268.4" y="203.5" font-size="6.40" text-anchor="end" fill="#222" stroke="#222" stroke-width="0.30" >0.8</text>
<line x1="271.6" y1="194.3" x2="272.8" y2="194.3" stroke="#444" stroke-width="0.8"/>
<line x1="270.8" y1="187.4" x2="272.8" y2="187.4" stroke="#444" stroke-width="0.8"/>
<text x="268.4" y="189.7" font-size="6.40" text-anchor="end" fill="#222" stroke="#222" stroke-width="0.30" >0.9</text>
<line x1="271.6" y1="180.4" x2="272.8" y2="180.4" stroke="#444" stroke-width="0.8"/>
<line x1="270.8" y1="173.5" x2="272.8" y2="173.5" stroke="#444" stroke-width="0.8"/>
<text x="268.4" y="175.8" font-size="6.40" text-anchor="end" fill="#222" stroke="#222" stroke-width="0.30" >1.0</text>
<text x="0" y="0" font-size="6.93" text-anchor="middle" textLength="72.8" lengthAdjust="spacingAndGlyphs" fill="#222" stroke="#222" stroke-width="0.30" font-family="Liberation Sans, sans-serif" font-weight="bold" transform="translate(249.8,247.9) rotate(-90)">Extinction coefficient, <tspan font-style="italic">k</tspan></text>
<text x="359.7" y="333.2" font-size="6.93" text-anchor="middle" textLength="50.6" lengthAdjust="spacingAndGlyphs" fill="#222" stroke="#222" stroke-width="0.30" font-family="Liberation Sans, sans-serif" font-weight="bold">Wavelength (nm)</text>
<text x="349.6" y="353.1" font-size="10.5" font-weight="bold" font-family="Liberation Serif, serif" text-anchor="middle" textLength="10.9" lengthAdjust="spacingAndGlyphs" fill="#222" stroke="#222" stroke-width="0.35">(d)</text>
<g clip-path="url(#cd)" fill="none" stroke-linejoin="round">
<path d="M272.80,279.33 C275.64,278.91 283.68,278.54 289.85,276.83 C296.02,275.12 304.13,272.32 309.81,269.06 C315.50,265.80 320.69,261.64 323.95,257.27 C327.21,252.91 327.69,247.89 329.36,242.85 C331.02,237.81 332.23,230.67 333.93,227.04 C335.63,223.41 337.54,219.78 339.55,221.07 C341.56,222.37 343.95,226.00 345.99,234.81 C348.04,243.61 349.84,263.17 351.81,273.92 C353.79,284.67 356.04,293.61 357.84,299.30 C359.65,304.99 360.79,305.89 362.63,308.04 C364.46,310.19 355.00,311.51 368.86,312.20 C382.73,312.89 432.98,312.20 445.80,312.20" stroke="#1c1c1c" stroke-width="1.6" stroke-dasharray="5 3.7"/>
<path d="M272.80,180.44 C273.04,182.05 273.39,183.69 274.26,190.14 C275.12,196.59 276.79,210.35 278.00,219.13 C279.21,227.92 280.56,237.28 281.53,242.85 C282.50,248.42 282.43,247.24 283.82,252.56 C285.21,257.88 287.18,268.74 289.85,274.75 C292.52,280.76 294.84,284.99 299.83,288.62 C304.82,292.25 313.14,294.68 319.79,296.53 C326.45,298.38 333.31,298.61 339.75,299.72 C346.20,300.83 353.37,302.24 358.47,303.18 C363.56,304.13 364.78,304.32 370.32,305.40 C375.87,306.49 384.60,308.71 391.74,309.70 C398.88,310.70 408.13,311.23 413.15,311.37 C418.18,311.51 419.01,311.18 421.89,310.54 C424.76,309.89 427.64,308.82 430.41,307.48 C433.19,306.14 437.17,303.32 438.52,302.49" stroke="#a01c1c" stroke-width="1.6" stroke-dasharray="5 3.7"/>
<path d="M272.80,241.60 C274.32,243.40 279.11,248.68 281.95,252.42 C284.79,256.17 286.87,261.41 289.85,264.07 C292.83,266.73 296.16,267.95 299.83,268.37 C303.50,268.79 307.87,266.22 311.89,266.57 C315.91,266.91 320.94,271.17 323.95,270.45 C326.97,269.73 328.39,265.71 329.98,262.27 C331.58,258.82 332.37,253.55 333.52,249.78 C334.66,246.02 335.80,240.12 336.84,239.66 C337.88,239.20 338.92,243.91 339.75,247.01 C340.59,250.11 340.79,251.15 341.83,258.25 C342.87,265.34 344.33,282.10 345.99,289.59 C347.66,297.08 349.22,299.60 351.81,303.18 C354.41,306.77 359.09,309.59 361.59,311.09 C364.08,312.59 352.75,312.02 366.79,312.20 C380.82,312.38 432.63,312.20 445.80,312.20" stroke="#901818" stroke-width="2"/>
</g>
<text x="296.8" y="243.4" font-size="6.82" text-anchor="start" textLength="8.1" lengthAdjust="spacingAndGlyphs" fill="#222" stroke="#222" stroke-width="0.30" font-family="Liberation Sans, sans-serif" font-weight="bold">(4)</text>
<line x1="300.5" y1="268.6" x2="300.5" y2="246.7" stroke="#333" stroke-width="0.70"/>
<polygon points="300.5,246.7 301.8,250.1 299.2,250.1" fill="#333"/>
<text x="278.6" y="303.9" font-size="6.82" text-anchor="start" textLength="19.0" lengthAdjust="spacingAndGlyphs" fill="#222" stroke="#222" stroke-width="0.30" font-family="Liberation Sans, sans-serif" font-weight="bold">PCBM</text>
<line x1="308.5" y1="296.3" x2="299.0" y2="301.4" stroke="#333" stroke-width="0.70"/>
<polygon points="299.0,301.4 301.4,298.6 302.6,300.9" fill="#333"/>
<text x="372.6" y="290.5" font-size="6.82" text-anchor="start" textLength="36.6" lengthAdjust="spacingAndGlyphs" fill="#222" stroke="#222" stroke-width="0.30" font-family="Liberation Sans, sans-serif" font-weight="bold">PBDB-T-2Cl</text>
<line x1="352.0" y1="274.3" x2="372.3" y2="282.7" stroke="#333" stroke-width="0.70"/>
<polygon points="372.3,282.7 368.7,282.6 369.7,280.2" fill="#333"/>
<rect x="319.10" y="176.50" width="103.50" height="26.60" fill="#111"/>
<rect x="317.40" y="174.80" width="103.50" height="26.60" fill="#fff" stroke="#8a8a8a" stroke-width="0.9"/>
<line x1="319.80" y1="180.90" x2="324.60" y2="180.90" stroke="#1c1c1c" stroke-width="1.6"/>
<line x1="329.00" y1="180.90" x2="333.80" y2="180.90" stroke="#1c1c1c" stroke-width="1.6"/>
<text transform="translate(337.70,183.32) scale(0.9444,1)" font-size="6.71" fill="#222" stroke="#222" stroke-width="0.30" font-family="Liberation Sans, sans-serif" font-weight="bold"><tspan font-style="italic">k</tspan> PBDB-T-2Cl</text>
<line x1="319.80" y1="188.70" x2="324.60" y2="188.70" stroke="#a01c1c" stroke-width="1.6"/>
<line x1="329.00" y1="188.70" x2="333.80" y2="188.70" stroke="#a01c1c" stroke-width="1.6"/>
<text transform="translate(337.70,191.12) scale(0.9444,1)" font-size="6.71" fill="#222" stroke="#222" stroke-width="0.30" font-family="Liberation Sans, sans-serif" font-weight="bold"><tspan font-style="italic">k</tspan> PCBM</text>
<line x1="319.80" y1="196.60" x2="336.00" y2="196.60" stroke="#901818" stroke-width="2"/>
<text transform="translate(337.70,199.02) scale(0.9444,1)" font-size="6.71" fill="#222" stroke="#222" stroke-width="0.30" font-family="Liberation Sans, sans-serif" font-weight="bold"><tspan font-style="italic">k</tspan> (4) PCBM-based thin film</text>
<clipPath id="ce"><rect x="33.1" y="365.8" width="173.2" height="141.6"/></clipPath>
<rect x="33.1" y="366.8" width="173.2" height="140.6" fill="none" stroke="#858585" stroke-width="1.3"/>
<line x1="39.8" y1="507.4" x2="39.8" y2="509.4" stroke="#444" stroke-width="0.8"/>
<text x="39.8" y="517.0" font-size="6.40" text-anchor="middle" fill="#222" stroke="#222" stroke-width="0.30" >300</text>
<line x1="50.2" y1="507.4" x2="50.2" y2="508.6" stroke="#444" stroke-width="0.8"/>
<line x1="60.6" y1="507.4" x2="60.6" y2="509.4" stroke="#444" stroke-width="0.8"/>
<text x="60.6" y="517.0" font-size="6.40" text-anchor="middle" fill="#222" stroke="#222" stroke-width="0.30" >400</text>
<line x1="71.0" y1="507.4" x2="71.0" y2="508.6" stroke="#444" stroke-width="0.8"/>
<line x1="81.4" y1="507.4" x2="81.4" y2="509.4" stroke="#444" stroke-width="0.8"/>
<text x="81.4" y="517.0" font-size="6.40" text-anchor="middle" fill="#222" stroke="#222" stroke-width="0.30" >500</text>
<line x1="91.8" y1="507.4" x2="91.8" y2="508.6" stroke="#444" stroke-width="0.8"/>
<line x1="102.2" y1="507.4" x2="102.2" y2="509.4" stroke="#444" stroke-width="0.8"/>
<text x="102.2" y="517.0" font-size="6.40" text-anchor="middle" fill="#222" stroke="#222" stroke-width="0.30" >600</text>
<line x1="112.6" y1="507.4" x2="112.6" y2="508.6" stroke="#444" stroke-width="0.8"/>
<line x1="123.0" y1="507.4" x2="123.0" y2="509.4" stroke="#444" stroke-width="0.8"/>
<text x="123.0" y="517.0" font-size="6.40" text-anchor="middle" fill="#222" stroke="#222" stroke-width="0.30" >700</text>
<line x1="133.4" y1="507.4" x2="133.4" y2="508.6" stroke="#444" stroke-width="0.8"/>
<line x1="143.8" y1="507.4" x2="143.8" y2="509.4" stroke="#444" stroke-width="0.8"/>
<text x="143.8" y="517.0" font-size="6.40" text-anchor="middle" fill="#222" stroke="#222" stroke-width="0.30" >800</text>
<line x1="154.3" y1="507.4" x2="154.3" y2="508.6" stroke="#444" stroke-width="0.8"/>
<line x1="164.7" y1="507.4" x2="164.7" y2="509.4" stroke="#444" stroke-width="0.8"/>
<text x="164.7" y="517.0" font-size="6.40" text-anchor="middle" fill="#222" stroke="#222" stroke-width="0.30" >900</text>
<line x1="175.1" y1="507.4" x2="175.1" y2="508.6" stroke="#444" stroke-width="0.8"/>
<line x1="185.5" y1="507.4" x2="185.5" y2="509.4" stroke="#444" stroke-width="0.8"/>
<text x="185.5" y="517.0" font-size="6.40" text-anchor="middle" fill="#222" stroke="#222" stroke-width="0.30" >1000</text>
<line x1="195.9" y1="507.4" x2="195.9" y2="508.6" stroke="#444" stroke-width="0.8"/>
<line x1="206.3" y1="507.4" x2="206.3" y2="509.4" stroke="#444" stroke-width="0.8"/>
<text x="206.3" y="517.0" font-size="6.40" text-anchor="middle" fill="#222" stroke="#222" stroke-width="0.30" >1100</text>
<line x1="31.1" y1="507.4" x2="33.1" y2="507.4" stroke="#444" stroke-width="0.8"/>
<text x="28.7" y="509.7" font-size="6.40" text-anchor="end" fill="#222" stroke="#222" stroke-width="0.30" >1.2</text>
<line x1="31.9" y1="497.4" x2="33.1" y2="497.4" stroke="#444" stroke-width="0.8"/>
<line x1="31.1" y1="487.3" x2="33.1" y2="487.3" stroke="#444" stroke-width="0.8"/>
<text x="28.7" y="489.6" font-size="6.40" text-anchor="end" fill="#222" stroke="#222" stroke-width="0.30" >1.4</text>
<line x1="31.9" y1="477.3" x2="33.1" y2="477.3" stroke="#444" stroke-width="0.8"/>
<line x1="31.1" y1="467.2" x2="33.1" y2="467.2" stroke="#444" stroke-width="0.8"/>
<text x="28.7" y="469.5" font-size="6.40" text-anchor="end" fill="#222" stroke="#222" stroke-width="0.30" >1.6</text>
<line x1="31.9" y1="457.2" x2="33.1" y2="457.2" stroke="#444" stroke-width="0.8"/>
<line x1="31.1" y1="447.1" x2="33.1" y2="447.1" stroke="#444" stroke-width="0.8"/>
<text x="28.7" y="449.4" font-size="6.40" text-anchor="end" fill="#222" stroke="#222" stroke-width="0.30" >1.8</text>
<line x1="31.9" y1="437.1" x2="33.1" y2="437.1" stroke="#444" stroke-width="0.8"/>
<line x1="31.1" y1="427.1" x2="33.1" y2="427.1" stroke="#444" stroke-width="0.8"/>
<text x="28.7" y="429.4" font-size="6.40" text-anchor="end" fill="#222" stroke="#222" stroke-width="0.30" >2.0</text>
<line x1="31.9" y1="417.0" x2="33.1" y2="417.0" stroke="#444" stroke-width="0.8"/>
<line x1="31.1" y1="407.0" x2="33.1" y2="407.0" stroke="#444" stroke-width="0.8"/>
<text x="28.7" y="409.3" font-size="6.40" text-anchor="end" fill="#222" stroke="#222" stroke-width="0.30" >2.2</text>
<line x1="31.9" y1="396.9" x2="33.1" y2="396.9" stroke="#444" stroke-width="0.8"/>
<line x1="31.1" y1="386.9" x2="33.1" y2="386.9" stroke="#444" stroke-width="0.8"/>
<text x="28.7" y="389.2" font-size="6.40" text-anchor="end" fill="#222" stroke="#222" stroke-width="0.30" >2.4</text>
<line x1="31.9" y1="376.8" x2="33.1" y2="376.8" stroke="#444" stroke-width="0.8"/>
<line x1="31.1" y1="366.8" x2="33.1" y2="366.8" stroke="#444" stroke-width="0.8"/>
<text x="28.7" y="369.1" font-size="6.40" text-anchor="end" fill="#222" stroke="#222" stroke-width="0.30" >2.6</text>
<text x="0" y="0" font-size="6.93" text-anchor="middle" textLength="53.8" lengthAdjust="spacingAndGlyphs" fill="#222" stroke="#222" stroke-width="0.30" font-family="Liberation Sans, sans-serif" font-weight="bold" transform="translate(11.2,443.6) rotate(-90)">Refractive index, <tspan font-style="italic">n</tspan></text>
<text x="119.9" y="529.3" font-size="6.93" text-anchor="middle" textLength="51.0" lengthAdjust="spacingAndGlyphs" fill="#222" stroke="#222" stroke-width="0.30" font-family="Liberation Sans, sans-serif" font-weight="bold">Wavelength (nm)</text>
<text x="109.0" y="545.3" font-size="10.5" font-weight="bold" font-family="Liberation Serif, serif" text-anchor="middle" textLength="9.8" lengthAdjust="spacingAndGlyphs" fill="#222" stroke="#222" stroke-width="0.35">(e)</text>
<g clip-path="url(#ce)" fill="none" stroke-linejoin="round">
<path d="M33.10,465.42 C34.90,465.59 39.35,465.87 43.93,466.43 C48.50,466.98 55.03,467.81 60.58,468.74 C66.13,469.66 73.07,471.20 77.23,471.95 C81.40,472.70 83.20,473.30 85.56,473.25 C87.92,473.20 89.83,472.82 91.39,471.65 C92.95,470.48 93.82,468.97 94.93,466.22 C96.04,463.48 97.01,460.03 98.05,455.18 C99.09,450.32 100.13,442.29 101.17,437.10 C102.21,431.91 103.36,426.79 104.30,424.04 C105.23,421.30 105.75,420.46 106.79,420.63 C107.83,420.80 109.22,423.14 110.54,425.05 C111.86,426.96 113.25,429.74 114.70,432.08 C116.16,434.42 117.83,437.40 119.28,439.11 C120.74,440.82 121.78,441.75 123.45,442.32 C125.11,442.89 127.09,442.54 129.28,442.52 C131.46,442.51 132.36,441.92 136.56,442.22 C140.76,442.52 147.87,443.38 154.46,444.33 C161.06,445.28 169.21,447.01 176.11,447.95 C183.02,448.88 190.86,449.42 195.89,449.95 C200.92,450.49 204.57,450.96 206.30,451.16" stroke="#1c1c1c" stroke-width="1.6" stroke-dasharray="5 3.7"/>
<path d="M33.10,442.12 C33.41,439.28 34.38,430.25 34.97,425.05 C35.56,419.84 36.05,414.24 36.64,410.89 C37.23,407.54 37.19,405.98 38.51,404.96 C39.83,403.94 42.40,403.44 44.55,404.76 C46.70,406.08 48.61,409.18 51.42,412.90 C54.23,416.61 57.07,423.56 61.41,427.06 C65.75,430.56 71.79,431.98 77.44,433.89 C83.10,435.79 88.40,437.33 95.34,438.51 C102.28,439.68 112.80,440.11 119.08,440.92 C125.36,441.72 127.16,442.19 133.02,443.33 C138.89,444.46 147.21,446.14 154.26,447.75 C161.30,449.35 170.08,451.60 175.28,452.97 C180.49,454.34 181.94,455.14 185.48,455.98 C189.02,456.82 193.05,457.55 196.52,457.99 C199.99,458.42 204.67,458.49 206.30,458.59" stroke="#a01c1c" stroke-width="1.6" stroke-dasharray="5 3.7"/>
<path d="M33.10,434.09 C33.86,435.76 36.12,441.17 37.68,444.13 C39.24,447.09 40.39,449.02 42.47,451.86 C44.55,454.71 47.85,458.47 50.17,461.20 C52.49,463.93 53.99,466.31 56.42,468.23 C58.84,470.16 61.41,471.38 64.74,472.75 C68.07,474.12 72.93,475.71 76.40,476.47 C79.87,477.22 82.58,477.27 85.56,477.27 C88.54,477.27 91.53,477.39 94.30,476.47 C97.08,475.55 99.54,473.89 102.21,471.75 C104.89,469.61 108.22,467.21 110.33,463.61 C112.45,460.01 113.14,455.91 114.91,450.16 C116.68,444.40 119.25,435.26 120.95,429.07 C122.65,422.87 123.83,416.85 125.11,413.00 C126.40,409.15 127.37,407.44 128.65,405.97 C129.94,404.49 131.39,403.82 132.81,404.16 C134.24,404.49 135.69,405.80 137.19,407.98 C138.68,410.15 138.92,412.44 141.77,417.22 C144.61,421.99 151.03,431.44 154.26,436.60 C157.48,441.75 158.56,444.80 161.13,448.15 C163.69,451.49 165.60,453.80 169.66,456.68 C173.72,459.56 179.38,462.58 185.48,465.42 C191.59,468.27 202.83,472.37 206.30,473.76" stroke="#2030f0" stroke-width="1.6" stroke-dasharray="5 3.7"/>
<path d="M33.10,462.61 C37.65,464.27 53.71,470.27 60.37,472.55 C67.03,474.83 69.08,475.30 73.07,476.27 C77.06,477.24 81.26,478.29 84.31,478.38 C87.36,478.46 89.24,478.46 91.39,476.77 C93.54,475.08 95.48,472.17 97.22,468.23 C98.95,464.30 100.20,459.19 101.80,453.17 C103.39,447.14 105.23,437.94 106.79,432.08 C108.35,426.22 109.78,421.87 111.16,418.02 C112.55,414.17 113.84,410.94 115.12,408.98 C116.40,407.02 117.55,406.97 118.87,406.27 C120.19,405.57 121.71,405.31 123.03,404.76 C124.35,404.21 125.29,403.59 126.78,402.95 C128.27,402.32 130.25,400.58 131.98,400.95 C133.72,401.31 135.56,402.82 137.19,405.16 C138.82,407.51 140.00,412.06 141.77,415.01 C143.54,417.95 145.37,420.16 147.80,422.84 C150.23,425.52 153.49,428.83 156.34,431.07 C159.18,433.32 159.95,433.87 164.87,436.30 C169.80,438.72 178.99,443.24 185.90,445.64 C192.80,448.03 202.90,449.82 206.30,450.66" stroke="#178c8c" stroke-width="2"/>
</g>
<text x="64.7" y="412.4" font-size="6.82" text-anchor="start" textLength="19.6" lengthAdjust="spacingAndGlyphs" fill="#222" stroke="#222" stroke-width="0.30" font-family="Liberation Sans, sans-serif" font-weight="bold">PCBM</text>
<line x1="61.7" y1="425.5" x2="71.9" y2="416.0" stroke="#333" stroke-width="0.70"/>
<polygon points="71.9,416.0 70.3,419.3 68.5,417.4" fill="#333"/>
<text x="52.0" y="458.1" font-size="6.82" text-anchor="start" textLength="35.2" lengthAdjust="spacingAndGlyphs" fill="#222" stroke="#222" stroke-width="0.30" font-family="Liberation Sans, sans-serif" font-weight="bold">PBDB-T-2Cl</text>
<line x1="93.1" y1="468.4" x2="85.0" y2="460.4" stroke="#333" stroke-width="0.70"/>
<polygon points="85.0,460.4 88.3,461.9 86.5,463.7" fill="#333"/>
<text x="117.2" y="485.0" font-size="6.82" text-anchor="start" textLength="17.7" lengthAdjust="spacingAndGlyphs" fill="#222" stroke="#222" stroke-width="0.30" font-family="Liberation Sans, sans-serif" font-weight="bold">ITIC-F</text>
<line x1="111.3" y1="464.2" x2="120.5" y2="476.6" stroke="#333" stroke-width="0.70"/>
<polygon points="120.5,476.6 117.4,474.6 119.5,473.1" fill="#333"/>
<text x="170.8" y="421.1" font-size="6.82" text-anchor="start" textLength="7.9" lengthAdjust="spacingAndGlyphs" fill="#222" stroke="#222" stroke-width="0.30" font-family="Liberation Sans, sans-serif" font-weight="bold">(2)</text>
<line x1="149.8" y1="425.7" x2="167.8" y2="418.9" stroke="#333" stroke-width="0.70"/>
<polygon points="167.8,418.9 165.1,421.3 164.2,418.9" fill="#333"/>
<rect x="38.90" y="370.70" width="67.60" height="18.70" fill="#111"/>
<rect x="37.20" y="369.00" width="67.60" height="18.70" fill="#fff" stroke="#8a8a8a" stroke-width="0.9"/>
<line x1="39.90" y1="374.00" x2="44.70" y2="374.00" stroke="#1c1c1c" stroke-width="1.6"/>
<line x1="49.10" y1="374.00" x2="53.90" y2="374.00" stroke="#1c1c1c" stroke-width="1.6"/>
<text transform="translate(58.50,376.42) scale(0.9634,1)" font-size="6.71" fill="#222" stroke="#222" stroke-width="0.30" font-family="Liberation Sans, sans-serif" font-weight="bold"><tspan font-style="italic">n</tspan> PBDB-T-2Cl</text>
<line x1="39.90" y1="382.30" x2="44.70" y2="382.30" stroke="#a01c1c" stroke-width="1.6"/>
<line x1="49.10" y1="382.30" x2="53.90" y2="382.30" stroke="#a01c1c" stroke-width="1.6"/>
<text transform="translate(58.50,384.72) scale(0.9634,1)" font-size="6.71" fill="#222" stroke="#222" stroke-width="0.30" font-family="Liberation Sans, sans-serif" font-weight="bold"><tspan font-style="italic">n</tspan> PCBM</text>
<rect x="117.90" y="371.10" width="78.40" height="27.00" fill="#111"/>
<rect x="116.20" y="369.40" width="78.40" height="27.00" fill="#fff" stroke="#8a8a8a" stroke-width="0.9"/>
<line x1="119.20" y1="374.80" x2="124.50" y2="374.80" stroke="#2030f0" stroke-width="1.6"/>
<line x1="127.90" y1="374.80" x2="133.20" y2="374.80" stroke="#2030f0" stroke-width="1.6"/>
<text transform="translate(138.20,377.22) scale(0.9382,1)" font-size="6.71" fill="#222" stroke="#222" stroke-width="0.30" font-family="Liberation Sans, sans-serif" font-weight="bold"><tspan font-style="italic">n</tspan> ITIC-F</text>
<line x1="119.20" y1="383.10" x2="135.90" y2="383.10" stroke="#178c8c" stroke-width="2"/>
<text transform="translate(138.20,385.52) scale(0.9382,1)" font-size="6.71" fill="#222" stroke="#222" stroke-width="0.30" font-family="Liberation Sans, sans-serif" font-weight="bold"><tspan font-style="italic">n</tspan> (2) "A" Ternary</text>
<text transform="translate(143.90,393.42) scale(0.9382,1)" font-size="6.71" fill="#222" stroke="#222" stroke-width="0.30" font-family="Liberation Sans, sans-serif" font-weight="bold">thin film</text>
<clipPath id="cf"><rect x="272.9" y="363.0" width="175.9" height="143.3"/></clipPath>
<rect x="272.9" y="364.0" width="175.9" height="142.3" fill="none" stroke="#858585" stroke-width="1.3"/>
<line x1="279.7" y1="506.3" x2="279.7" y2="508.3" stroke="#444" stroke-width="0.8"/>
<text x="279.7" y="516.4" font-size="6.40" text-anchor="middle" fill="#222" stroke="#222" stroke-width="0.30" >300</text>
<line x1="290.2" y1="506.3" x2="290.2" y2="507.5" stroke="#444" stroke-width="0.8"/>
<line x1="300.8" y1="506.3" x2="300.8" y2="508.3" stroke="#444" stroke-width="0.8"/>
<text x="300.8" y="516.4" font-size="6.40" text-anchor="middle" fill="#222" stroke="#222" stroke-width="0.30" >400</text>
<line x1="311.4" y1="506.3" x2="311.4" y2="507.5" stroke="#444" stroke-width="0.8"/>
<line x1="321.9" y1="506.3" x2="321.9" y2="508.3" stroke="#444" stroke-width="0.8"/>
<text x="321.9" y="516.4" font-size="6.40" text-anchor="middle" fill="#222" stroke="#222" stroke-width="0.30" >500</text>
<line x1="332.5" y1="506.3" x2="332.5" y2="507.5" stroke="#444" stroke-width="0.8"/>
<line x1="343.1" y1="506.3" x2="343.1" y2="508.3" stroke="#444" stroke-width="0.8"/>
<text x="343.1" y="516.4" font-size="6.40" text-anchor="middle" fill="#222" stroke="#222" stroke-width="0.30" >600</text>
<line x1="353.7" y1="506.3" x2="353.7" y2="507.5" stroke="#444" stroke-width="0.8"/>
<line x1="364.2" y1="506.3" x2="364.2" y2="508.3" stroke="#444" stroke-width="0.8"/>
<text x="364.2" y="516.4" font-size="6.40" text-anchor="middle" fill="#222" stroke="#222" stroke-width="0.30" >700</text>
<line x1="374.8" y1="506.3" x2="374.8" y2="507.5" stroke="#444" stroke-width="0.8"/>
<line x1="385.4" y1="506.3" x2="385.4" y2="508.3" stroke="#444" stroke-width="0.8"/>
<text x="385.4" y="516.4" font-size="6.40" text-anchor="middle" fill="#222" stroke="#222" stroke-width="0.30" >800</text>
<line x1="395.9" y1="506.3" x2="395.9" y2="507.5" stroke="#444" stroke-width="0.8"/>
<line x1="406.5" y1="506.3" x2="406.5" y2="508.3" stroke="#444" stroke-width="0.8"/>
<text x="406.5" y="516.4" font-size="6.40" text-anchor="middle" fill="#222" stroke="#222" stroke-width="0.30" >900</text>
<line x1="417.1" y1="506.3" x2="417.1" y2="507.5" stroke="#444" stroke-width="0.8"/>
<line x1="427.7" y1="506.3" x2="427.7" y2="508.3" stroke="#444" stroke-width="0.8"/>
<text x="427.7" y="516.4" font-size="6.40" text-anchor="middle" fill="#222" stroke="#222" stroke-width="0.30" >1000</text>
<line x1="438.2" y1="506.3" x2="438.2" y2="507.5" stroke="#444" stroke-width="0.8"/>
<line x1="448.8" y1="506.3" x2="448.8" y2="508.3" stroke="#444" stroke-width="0.8"/>
<text x="448.8" y="516.4" font-size="6.40" text-anchor="middle" fill="#222" stroke="#222" stroke-width="0.30" >1100</text>
<line x1="270.9" y1="506.3" x2="272.9" y2="506.3" stroke="#444" stroke-width="0.8"/>
<text x="268.5" y="508.6" font-size="6.40" text-anchor="end" fill="#222" stroke="#222" stroke-width="0.30" >0.0</text>
<line x1="271.7" y1="499.2" x2="272.9" y2="499.2" stroke="#444" stroke-width="0.8"/>
<line x1="270.9" y1="492.1" x2="272.9" y2="492.1" stroke="#444" stroke-width="0.8"/>
<text x="268.5" y="494.4" font-size="6.40" text-anchor="end" fill="#222" stroke="#222" stroke-width="0.30" >0.1</text>
<line x1="271.7" y1="485.0" x2="272.9" y2="485.0" stroke="#444" stroke-width="0.8"/>
<line x1="270.9" y1="477.8" x2="272.9" y2="477.8" stroke="#444" stroke-width="0.8"/>
<text x="268.5" y="480.1" font-size="6.40" text-anchor="end" fill="#222" stroke="#222" stroke-width="0.30" >0.2</text>
<line x1="271.7" y1="470.7" x2="272.9" y2="470.7" stroke="#444" stroke-width="0.8"/>
<line x1="270.9" y1="463.6" x2="272.9" y2="463.6" stroke="#444" stroke-width="0.8"/>
<text x="268.5" y="465.9" font-size="6.40" text-anchor="end" fill="#222" stroke="#222" stroke-width="0.30" >0.3</text>
<line x1="271.7" y1="456.5" x2="272.9" y2="456.5" stroke="#444" stroke-width="0.8"/>
<line x1="270.9" y1="449.4" x2="272.9" y2="449.4" stroke="#444" stroke-width="0.8"/>
<text x="268.5" y="451.7" font-size="6.40" text-anchor="end" fill="#222" stroke="#222" stroke-width="0.30" >0.4</text>
<line x1="271.7" y1="442.3" x2="272.9" y2="442.3" stroke="#444" stroke-width="0.8"/>
<line x1="270.9" y1="435.1" x2="272.9" y2="435.1" stroke="#444" stroke-width="0.8"/>
<text x="268.5" y="437.5" font-size="6.40" text-anchor="end" fill="#222" stroke="#222" stroke-width="0.30" >0.5</text>
<line x1="271.7" y1="428.0" x2="272.9" y2="428.0" stroke="#444" stroke-width="0.8"/>
<line x1="270.9" y1="420.9" x2="272.9" y2="420.9" stroke="#444" stroke-width="0.8"/>
<text x="268.5" y="423.2" font-size="6.40" text-anchor="end" fill="#222" stroke="#222" stroke-width="0.30" >0.6</text>
<line x1="271.7" y1="413.8" x2="272.9" y2="413.8" stroke="#444" stroke-width="0.8"/>
<line x1="270.9" y1="406.7" x2="272.9" y2="406.7" stroke="#444" stroke-width="0.8"/>
<text x="268.5" y="409.0" font-size="6.40" text-anchor="end" fill="#222" stroke="#222" stroke-width="0.30" >0.7</text>
<line x1="271.7" y1="399.6" x2="272.9" y2="399.6" stroke="#444" stroke-width="0.8"/>
<line x1="270.9" y1="392.5" x2="272.9" y2="392.5" stroke="#444" stroke-width="0.8"/>
<text x="268.5" y="394.8" font-size="6.40" text-anchor="end" fill="#222" stroke="#222" stroke-width="0.30" >0.8</text>
<line x1="271.7" y1="385.3" x2="272.9" y2="385.3" stroke="#444" stroke-width="0.8"/>
<line x1="270.9" y1="378.2" x2="272.9" y2="378.2" stroke="#444" stroke-width="0.8"/>
<text x="268.5" y="380.5" font-size="6.40" text-anchor="end" fill="#222" stroke="#222" stroke-width="0.30" >0.9</text>
<line x1="271.7" y1="371.1" x2="272.9" y2="371.1" stroke="#444" stroke-width="0.8"/>
<line x1="270.9" y1="364.0" x2="272.9" y2="364.0" stroke="#444" stroke-width="0.8"/>
<text x="268.5" y="366.3" font-size="6.40" text-anchor="end" fill="#222" stroke="#222" stroke-width="0.30" >1.0</text>
<text x="0" y="0" font-size="6.93" text-anchor="middle" textLength="74.2" lengthAdjust="spacingAndGlyphs" fill="#222" stroke="#222" stroke-width="0.30" font-family="Liberation Sans, sans-serif" font-weight="bold" transform="translate(249.0,440.1) rotate(-90)">Extinction coefficient, <tspan font-style="italic">k</tspan></text>
<text x="361.0" y="528.6" font-size="6.93" text-anchor="middle" textLength="52.2" lengthAdjust="spacingAndGlyphs" fill="#222" stroke="#222" stroke-width="0.30" font-family="Liberation Sans, sans-serif" font-weight="bold">Wavelength (nm)</text>
<text x="349.0" y="544.8" font-size="10.5" font-weight="bold" font-family="Liberation Serif, serif" text-anchor="middle" textLength="9.8" lengthAdjust="spacingAndGlyphs" fill="#222" stroke="#222" stroke-width="0.35">(f)</text>
<g clip-path="url(#cf)" fill="none" stroke-linejoin="round">
<path d="M272.90,473.29 C275.75,472.74 283.19,471.86 290.02,470.01 C296.86,468.16 307.26,467.24 313.92,462.19 C320.57,457.14 326.35,446.34 329.98,439.70 C333.61,433.06 333.86,426.73 335.69,422.34 C337.52,417.96 338.90,412.10 340.98,413.38 C343.06,414.66 345.98,420.75 348.16,430.03 C350.35,439.30 352.29,458.18 354.08,469.02 C355.88,479.86 356.69,489.08 358.95,495.06 C361.20,501.03 365.33,503.00 367.62,504.88 C369.91,506.75 359.16,506.06 372.69,506.30 C386.22,506.54 436.11,506.30 448.80,506.30" stroke="#1c1c1c" stroke-width="1.6" stroke-dasharray="5 3.7"/>
<path d="M272.90,470.73 C274.38,473.29 278.89,482.65 281.78,486.09 C284.67,489.53 287.28,490.13 290.24,491.36 C293.20,492.59 296.37,493.37 299.54,493.49 C302.71,493.61 305.85,492.95 309.26,492.07 C312.68,491.19 315.78,491.07 320.05,488.23 C324.31,485.38 329.95,480.52 334.85,474.99 C339.74,469.47 345.56,461.24 349.43,455.07 C353.31,448.91 355.99,441.84 358.10,438.00 C360.22,434.15 361.10,432.97 362.12,432.02 C363.14,431.07 363.32,430.48 364.23,432.30 C365.15,434.13 365.96,436.57 367.62,442.98 C369.27,449.38 371.98,462.54 374.17,470.73 C376.35,478.91 378.19,486.76 380.72,492.07 C383.26,497.38 386.50,500.30 389.39,502.60 C392.28,504.90 395.21,505.26 398.06,505.87 C400.91,506.49 398.06,506.23 406.52,506.30 C414.97,506.37 441.75,506.30 448.80,506.30" stroke="#2030f0" stroke-width="1.6" stroke-dasharray="5 3.7"/>
<path d="M272.90,371.12 C273.15,372.78 273.50,374.46 274.38,381.08 C275.26,387.69 276.95,401.80 278.19,410.82 C279.42,419.83 280.79,429.43 281.78,435.15 C282.77,440.87 282.70,439.66 284.11,445.11 C285.51,450.57 287.52,461.71 290.24,467.88 C292.95,474.05 295.31,478.39 300.38,482.11 C305.46,485.83 313.92,488.32 320.68,490.22 C327.45,492.12 334.42,492.35 340.98,493.49 C347.53,494.63 354.82,496.08 360.00,497.05 C365.18,498.02 366.42,498.21 372.06,499.33 C377.69,500.44 386.57,502.72 393.83,503.74 C401.09,504.76 410.50,505.30 415.61,505.45 C420.72,505.59 421.56,505.26 424.49,504.59 C427.41,503.93 430.34,502.84 433.16,501.46 C435.97,500.09 440.03,497.19 441.40,496.34" stroke="#a01c1c" stroke-width="1.6" stroke-dasharray="5 3.7"/>
<path d="M272.90,477.84 C275.75,478.15 283.86,480.52 290.02,479.69 C296.19,478.86 303.91,476.58 309.90,472.86 C315.89,469.14 321.28,463.85 325.97,457.35 C330.65,450.85 335.27,439.94 338.02,433.87 C340.77,427.80 341.29,423.58 342.46,420.92 C343.62,418.26 344.11,417.58 344.99,417.93 C345.87,418.29 346.83,419.43 347.74,423.05 C348.66,426.68 349.08,431.07 350.49,439.70 C351.90,448.34 354.33,463.75 356.20,474.85 C358.07,485.95 360.78,501.06 361.70,506.30 M361.70,506.30 L448.80,506.30" stroke="#178c8c" stroke-width="2"/>
</g>
<text x="288.7" y="414.5" font-size="6.82" text-anchor="start" textLength="19.0" lengthAdjust="spacingAndGlyphs" fill="#222" stroke="#222" stroke-width="0.30" font-family="Liberation Sans, sans-serif" font-weight="bold">PCBM</text>
<line x1="281.5" y1="433.6" x2="294.0" y2="415.9" stroke="#333" stroke-width="0.70"/>
<polygon points="294.0,415.9 293.1,419.4 291.0,417.9" fill="#333"/>
<text x="287.4" y="440.0" font-size="6.82" text-anchor="start" textLength="36.0" lengthAdjust="spacingAndGlyphs" fill="#222" stroke="#222" stroke-width="0.30" font-family="Liberation Sans, sans-serif" font-weight="bold">PBDB-T-2Cl</text>
<line x1="313.6" y1="459.0" x2="311.6" y2="442.7" stroke="#333" stroke-width="0.70"/>
<polygon points="311.6,442.7 313.3,445.9 310.7,446.2" fill="#333"/>
<text x="369.9" y="424.7" font-size="6.82" text-anchor="start" textLength="8.2" lengthAdjust="spacingAndGlyphs" fill="#222" stroke="#222" stroke-width="0.30" font-family="Liberation Sans, sans-serif" font-weight="bold">(2)</text>
<line x1="350.2" y1="429.2" x2="369.4" y2="422.2" stroke="#333" stroke-width="0.70"/>
<polygon points="369.4,422.2 366.7,424.6 365.8,422.1" fill="#333"/>
<text x="392.1" y="458.7" font-size="6.82" text-anchor="start" textLength="17.7" lengthAdjust="spacingAndGlyphs" fill="#222" stroke="#222" stroke-width="0.30" font-family="Liberation Sans, sans-serif" font-weight="bold">ITIC-F</text>
<line x1="374.6" y1="462.3" x2="390.0" y2="455.7" stroke="#333" stroke-width="0.70"/>
<polygon points="390.0,455.7 387.4,458.2 386.4,455.8" fill="#333"/>
<rect x="335.80" y="367.80" width="102.50" height="34.40" fill="#111"/>
<rect x="334.10" y="366.10" width="102.50" height="34.40" fill="#fff" stroke="#8a8a8a" stroke-width="0.9"/>
<line x1="338.50" y1="371.80" x2="342.80" y2="371.80" stroke="#1c1c1c" stroke-width="1.6"/>
<line x1="347.60" y1="371.80" x2="351.90" y2="371.80" stroke="#1c1c1c" stroke-width="1.6"/>
<text transform="translate(356.30,374.29) scale(0.9319,1)" font-size="6.93" fill="#222" stroke="#222" stroke-width="0.30" font-family="Liberation Sans, sans-serif" font-weight="bold"><tspan font-style="italic">k</tspan> PBDB-T-2Cl</text>
<line x1="338.50" y1="380.20" x2="342.80" y2="380.20" stroke="#2030f0" stroke-width="1.6"/>
<line x1="347.60" y1="380.20" x2="351.90" y2="380.20" stroke="#2030f0" stroke-width="1.6"/>
<text transform="translate(356.30,382.69) scale(0.9319,1)" font-size="6.93" fill="#222" stroke="#222" stroke-width="0.30" font-family="Liberation Sans, sans-serif" font-weight="bold"><tspan font-style="italic">k</tspan> ITIC-F</text>
<line x1="338.50" y1="388.60" x2="342.80" y2="388.60" stroke="#a01c1c" stroke-width="1.6"/>
<line x1="347.60" y1="388.60" x2="351.90" y2="388.60" stroke="#a01c1c" stroke-width="1.6"/>
<text transform="translate(356.30,391.09) scale(0.9319,1)" font-size="6.93" fill="#222" stroke="#222" stroke-width="0.30" font-family="Liberation Sans, sans-serif" font-weight="bold"><tspan font-style="italic">k</tspan> PCBM</text>
<line x1="338.50" y1="397.00" x2="355.00" y2="397.00" stroke="#178c8c" stroke-width="2"/>
<text transform="translate(356.30,399.49) scale(0.9319,1)" font-size="6.93" fill="#222" stroke="#222" stroke-width="0.30" font-family="Liberation Sans, sans-serif" font-weight="bold"><tspan font-style="italic">k</tspan> (2) "A" Ternary thin film</text>
</svg></body></html>
